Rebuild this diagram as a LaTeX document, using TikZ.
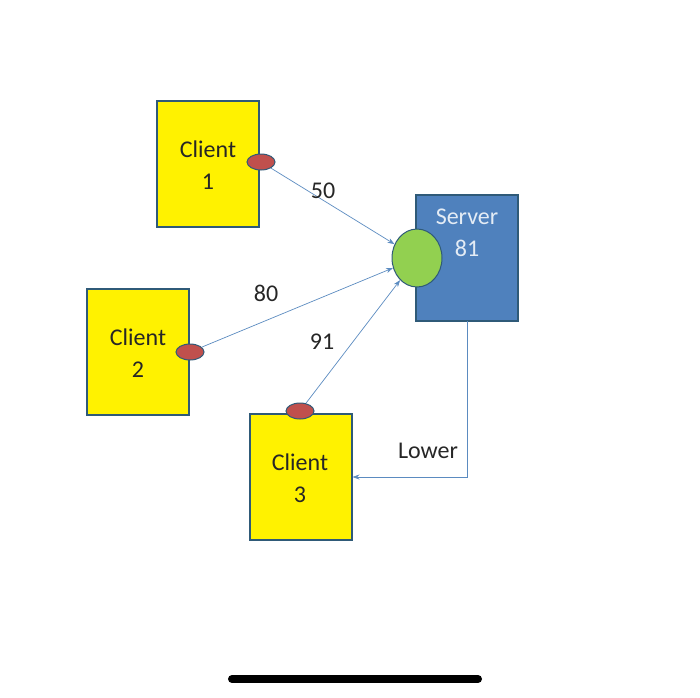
\documentclass[tikz,border=0pt]{standalone}
\usepackage{fontspec}
\setmainfont{Carlito}
\usetikzlibrary{arrows.meta,shapes.geometric}
\definecolor{bord}{HTML}{2F5A78}
\definecolor{srv}{HTML}{4F81BD}
\definecolor{dot}{HTML}{C0504D}
\definecolor{grn}{HTML}{92D050}
\definecolor{ln}{HTML}{5B8BC0}
\definecolor{txt}{HTML}{262626}
\begin{document}
\begin{tikzpicture}[x=1pt,y=-1pt,
 box/.style={draw=bord,line width=2pt,minimum width=102pt,minimum height=126pt,inner sep=0pt},
 client/.style={box,fill=yellow},
 port/.style={ellipse,draw=bord,line width=1pt,fill=dot,minimum width=28pt,minimum height=16pt,inner sep=0pt},
 conn/.style={draw=ln,line width=0.7pt,-{Stealth[length=7pt,width=5pt]}},
 lbl/.style={font=\fontsize{24}{32}\selectfont,align=center,text=txt}]
\useasboundingbox (0,0) rectangle (700,697);
\node[client] (c1) at (208,164) {};
\node[lbl] at (208,165) {Client\\1};
\node[client] (c2) at (138,351.5) {};
\node[lbl] at (138,353) {Client\\2};
\node[client] (c3) at (300.5,476.5) {};
\node[lbl] at (300,478) {Client\\3};
\node[box,fill=srv,draw=bord] (s) at (467,258) {};
\node[lbl,text=white!85!srv] at (467,233) {Server\\81};
\node[ellipse,draw=bord,line width=1pt,fill=grn,minimum width=50pt,minimum height=58pt,inner sep=0pt] (g) at (417,258) {};
\node[port] (p1) at (261,162) {};
\node[port] (p2) at (190,352) {};
\node[port] (p3) at (300,411) {};
\draw[conn] (p1) -- (g);
\draw[conn] (p2) -- (g);
\draw[conn] (p3) -- (g);
\coordinate (sb) at (467,321);
\draw[conn] (sb) |- (c3.east |- 0,477);
\node[lbl] at (323,191) {50};
\node[lbl] at (266,293) {80};
\node[lbl] at (322,342) {91};
\node[lbl] at (428,451) {Lower};
\draw[line width=8pt,line cap=round] (232,679) -- (478,679);
\end{tikzpicture}
\end{document}
